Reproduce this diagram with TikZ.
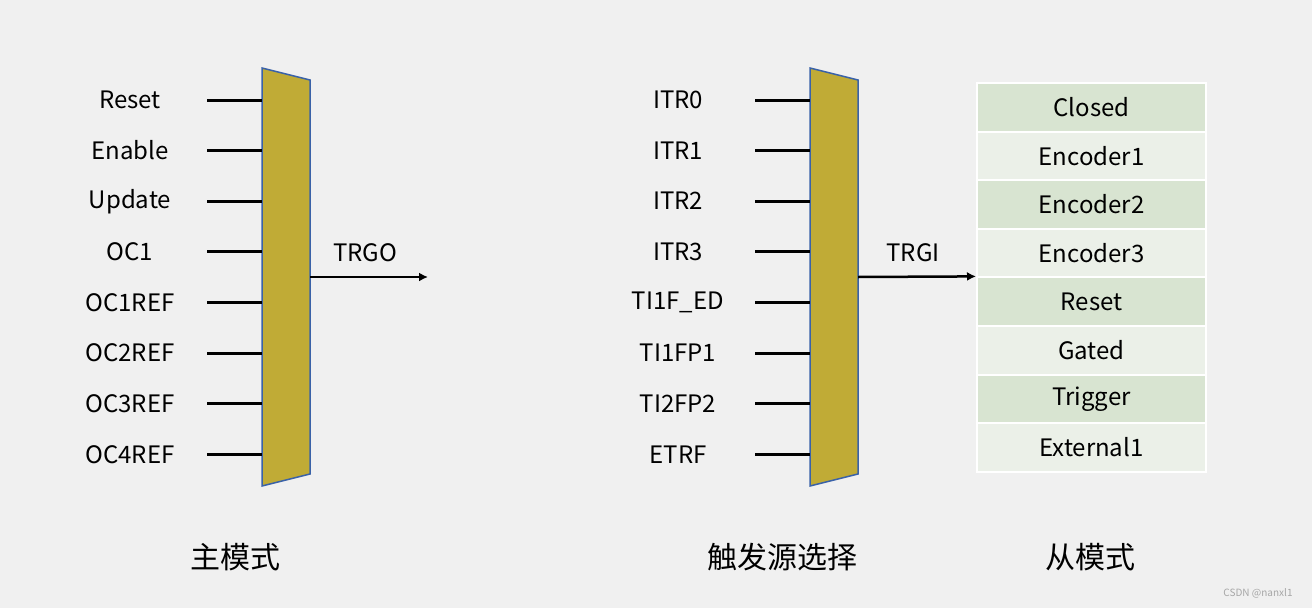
\documentclass[tikz,border=0pt]{standalone}
\usepackage{fontspec}
\setmainfont{Noto Sans CJK SC}
\begin{document}
\begin{tikzpicture}[x=1pt,y=-1pt,
  lbl/.style={font=\fontsize{24}{28}\selectfont,inner sep=0pt},
  cn/.style={font=\fontsize{30}{34}\selectfont,inner sep=0pt},
  mux/.style={fill=muxc,draw=muxb,line width=1.5pt},
  inl/.style={line width=3pt},
  outl/.style={line width=2.5pt,-{Latex[length=9pt,width=9pt]}},
  cell/.style={draw=white,line width=2pt,minimum width=229pt,minimum height=48.6pt,inner sep=0pt,font=\fontsize{24}{28}\selectfont}]
\definecolor{bg}{HTML}{F0F0F0}
\definecolor{muxc}{HTML}{C0AB36}
\definecolor{muxb}{HTML}{3A62A8}
\definecolor{cd}{HTML}{D8E4D1}
\definecolor{cl}{HTML}{EBF0E8}
\fill[bg] (0,0) rectangle (1312,608);
\useasboundingbox (0,0) rectangle (1312,608);
\usetikzlibrary{arrows.meta}
% mux 1
\draw[mux] (262,68) -- (310,80) -- (310,474) -- (262,486) -- cycle;
\coordinate (m1o) at (310,277);
\coordinate (m1e) at (428,277);
\draw[outl] (m1o) -- (m1e);
\node[lbl] (trgo) at (365,253) {TRGO};
\foreach \t [count=\i] in {Reset,Enable,Update,OC1,OC1REF,OC2REF,OC3REF,OC4REF}{
  \pgfmathsetmacro\yy{100+50.6*(\i-1)}
  \node[lbl] (a\i) at (130,\yy) {\t};
  \coordinate (as\i) at (207,\yy);
  \coordinate (ae\i) at (262,\yy);
  \draw[inl] (as\i) -- (ae\i);
}
% mux 2
\draw[mux] (810,68) -- (858,80) -- (858,474) -- (810,486) -- cycle;
\foreach \t [count=\i] in {ITR0,ITR1,ITR2,ITR3,TI1F\_ED,TI1FP1,TI2FP2,ETRF}{
  \pgfmathsetmacro\yy{100+50.6*(\i-1)}
  \node[lbl] (b\i) at (678,\yy) {\t};
  \coordinate (bs\i) at (755,\yy);
  \coordinate (be\i) at (810,\yy);
  \draw[inl] (bs\i) -- (be\i);
}
\node[lbl] (trgi) at (913,253) {TRGI};
% table
\foreach \t/\c [count=\i] in {Closed/cd,Encoder1/cl,Encoder2/cd,Encoder3/cl,Reset/cd,Gated/cl,Trigger/cd,External1/cl}{
  \pgfmathsetmacro\yy{107.3+48.6*(\i-1)}
  \node[cell,fill=\c] (c\i) at (1091.5,\yy) {\t};
}
\coordinate (m2o) at (858,277);
\draw[outl] (m2o) -- (c5.north west);
\node[cn] (l1) at (235,557) {主模式};
\node[cn] (l2) at (782,557) {触发源选择};
\node[cn] (l3) at (1090,557) {从模式};
\node[font=\fontsize{10}{12}\selectfont,text=gray!70,inner sep=0pt] (wm) at (1258,593) {CSDN @nanxl1};
\end{tikzpicture}
\end{document}
